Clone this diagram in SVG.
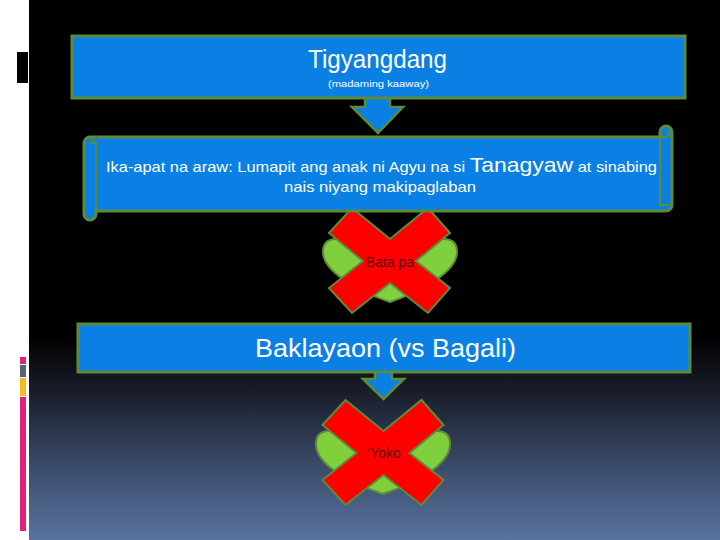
<svg xmlns="http://www.w3.org/2000/svg" width="720" height="540" viewBox="0 0 720 540">
<defs>
<linearGradient id="bg" x1="0" y1="0" x2="0" y2="540" gradientUnits="userSpaceOnUse">
<stop offset="0" stop-color="#000000"/>
<stop offset="0.62" stop-color="#000000"/>
<stop offset="0.74" stop-color="#1c2230"/>
<stop offset="0.86" stop-color="#3a4a68"/>
<stop offset="1" stop-color="#5a72a0"/>
</linearGradient>
<style>
.box{fill:#0a80e4;stroke:#5e8a3a;stroke-width:3}
.arrow{fill:#0a80e4;stroke:#5e8a3a;stroke-width:2.5;stroke-linejoin:miter}
.blob{fill:#7fd03c;stroke:#5e8a3a;stroke-width:2}
.x{fill:#ff0000;stroke:#5e8a3a;stroke-width:2;stroke-linejoin:miter}
.wt{fill:#ffffff;font-family:"Liberation Sans Narrow","Liberation Sans",sans-serif;text-anchor:start}
.rt{fill:#5a0a0a;font-family:"Liberation Sans Narrow","Liberation Sans",sans-serif;font-size:14px}
</style>
</defs>
<rect x="0" y="0" width="720" height="540" fill="#ffffff"/>
<rect x="29" y="0" width="691" height="540" fill="url(#bg)"/>
<rect x="17" y="52" width="11" height="31" fill="#000000"/>
<rect x="20" y="357" width="6" height="7" fill="#e0207a"/>
<rect x="20" y="365" width="6" height="12" fill="#5a6470"/>
<rect x="20" y="378" width="6" height="18" fill="#f8b820"/>
<rect x="20" y="397" width="6" height="134" fill="#e0207a"/>

<g id="connectors">
<polygon class="arrow" points="365,97 390,97 390,107 403,107 378,133 352,107 365,107"/>
<polygon class="arrow" points="375,371 392,371 392,379 404,379 383.5,399 363,379 375,379"/>
</g>

<g id="node-tigyangdang">
<rect class="box" x="72" y="36" width="613" height="62"/>
<text class="wt" x="308" y="68" font-size="26" textLength="139" lengthAdjust="spacingAndGlyphs">Tigyangdang</text>
<text class="wt" x="328" y="87" font-size="9" textLength="101" lengthAdjust="spacingAndGlyphs">(madaming kaaway)</text>
</g>

<g id="node-bata-pa">
<path class="blob" d="M 323 252 C 323 243 328 239 336 239 L 444 239 C 452 239 457 243 457 252 C 457 272 420 292 390 302 C 360 292 323 272 323 252 Z"/>
<polygon class="x" points="352,208 390,239 428,208 450,233 416,261 450,288 428,313 390,283 352,313 329,288 363,261 329,233"/>
<text class="rt" x="390" y="267" text-anchor="middle">Bata pa</text>
</g>

<g id="node-ika-apat">
<path class="box" d="M 96 137 L 660 137 L 660 132 A 6 6 0 0 1 672 132 L 672 205 A 6 6 0 0 1 666 211 L 96 211 L 96 214 A 6 6 0 0 1 84 214 L 84 143 A 6 6 0 0 1 90 137 Z"/>
<path d="M 90 137 A 3 3 0 0 1 90 143 L 96 143 L 96 211 M 660 137 L 666 137 A 3 3 0 0 0 666 131 M 660 137 L 660 205 L 672 205" fill="none" stroke="#5e8a3a" stroke-width="2"/>
<text class="wt" x="106" y="172" font-size="15" textLength="551" lengthAdjust="spacingAndGlyphs">Ika-apat na araw: Lumapit ang anak ni Agyu na si <tspan font-size="21">Tanagyaw</tspan> at sinabing</text>
<text class="wt" x="284" y="192" font-size="15" textLength="192" lengthAdjust="spacingAndGlyphs">nais niyang makipaglaban</text>
</g>

<g id="node-baklayaon">
<rect class="box" x="78" y="324" width="612" height="48"/>
<text class="wt" x="255" y="357" font-size="26" textLength="261" lengthAdjust="spacingAndGlyphs">Baklayaon (vs Bagali)</text>
</g>

<g id="node-yoko">
<path class="blob" d="M 316 444 C 316 435 321 431 329 431 L 437 431 C 445 431 450 435 450 444 C 450 466 413 484 383 494 C 353 484 316 466 316 444 Z"/>
<polygon class="x" points="345.5,400 383.5,431 421.5,400 443.5,425 409.5,453 443.5,480 421.5,505 383.5,475 345.5,505 322.5,480 356.5,453 322.5,425"/>
<text class="rt" x="384" y="458" text-anchor="middle">‘Yoko</text>
</g>
</svg>
